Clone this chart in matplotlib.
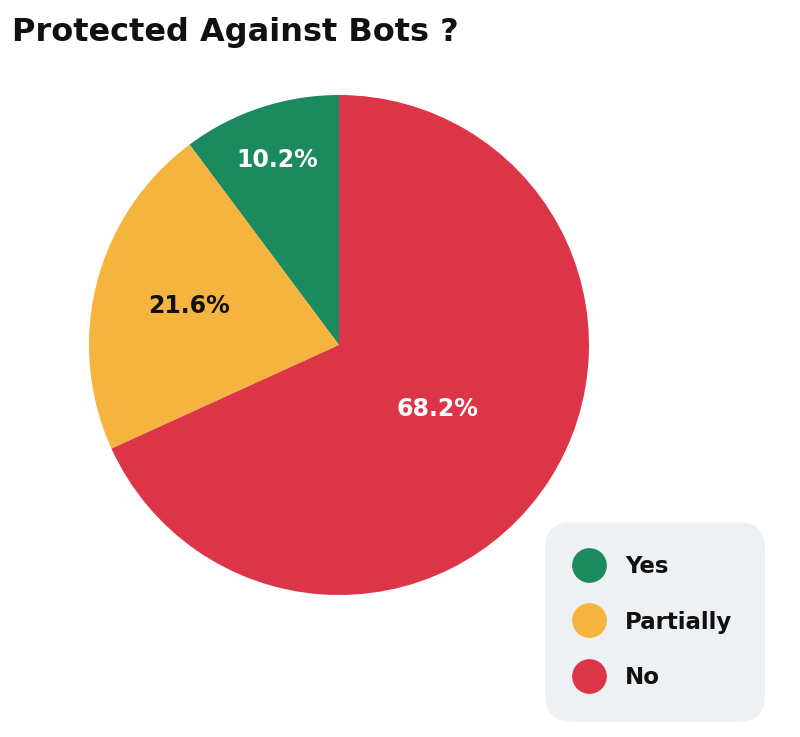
import numpy as np
import matplotlib.pyplot as plt
from matplotlib.lines import Line2D

# Data
labels = ['Yes', 'Partially', 'No']
values = [10.2, 21.6, 68.2]
colors = ['#1b8a5f', '#f5b43e', '#dd3548']
text_colors = ['white', '#111111', 'white']
label_dist = [0.78, 0.62, 0.47]

fig = plt.figure(figsize=(8, 7.37), dpi=100)
fig.patch.set_facecolor('white')

# axes placed so the pie sits where it does in the original
ax = fig.add_axes([89 / 800, 1 - 595 / 737, 500 / 800, 500 / 737])
wedges, _ = ax.pie(values, colors=colors, startangle=90, counterclock=True,
                   radius=1, wedgeprops=dict(linewidth=0))
ax.set_xlim(-1, 1)
ax.set_ylim(-1, 1)
ax.set_aspect('equal')
ax.axis('off')

for w, v, tc, d in zip(wedges, values, text_colors, label_dist):
    ang = np.deg2rad((w.theta1 + w.theta2) / 2)
    ax.text(d * np.cos(ang), d * np.sin(ang), f'{v}%', ha='center', va='center',
            fontsize=17, fontweight='bold', color=tc)

fig.text(12 / 800, 1 - 33 / 737, 'Protected Against Bots ?', fontsize=23,
         fontweight='heavy', color='#111111', va='center', ha='left')

handles = [Line2D([0], [0], marker='o', linestyle='none', markersize=25,
                  markerfacecolor=c, markeredgecolor='none') for c in colors]
leg = fig.legend(handles, labels, loc='center', bbox_to_anchor=(655 / 800, 1 - 622 / 737),
                 frameon=True, fontsize=16.5, labelspacing=1.42, handletextpad=1.05,
                 borderpad=1.45, handlelength=1.0, borderaxespad=0)
frame = leg.get_frame()
frame.set_facecolor('#edf1f3')
frame.set_edgecolor('none')
frame.set_alpha(1)
frame.set_boxstyle('round,pad=0,rounding_size=1.2')
for t in leg.get_texts():
    t.set_fontweight('bold')
    t.set_color('#111111')

fig.savefig('out.png', dpi=100)
